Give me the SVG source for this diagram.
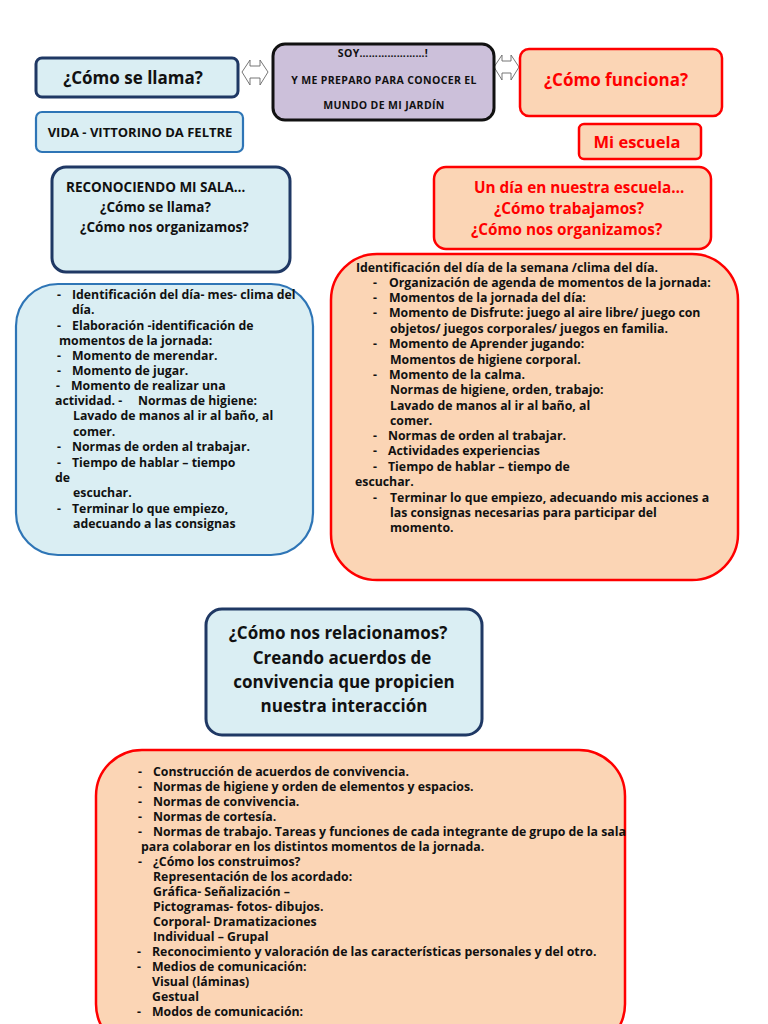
<svg xmlns="http://www.w3.org/2000/svg" width="768" height="1024" viewBox="0 0 768 1024">
<style>
text{font-family:"Open Sans","Liberation Sans",sans-serif;font-weight:bold;fill:#111}
.blue{fill:#daeef3;stroke:#1f3864;stroke-width:3}
.blue2{fill:#daeef3;stroke:#2e75b6;stroke-width:2.2}
.peach{fill:#fbd5b5;stroke:#ff0000;stroke-width:2.5}
.purple{fill:#ccc0da;stroke:#111;stroke-width:3}
.red{fill:#ff0000}
.t18{font-size:17px}
.t13{font-size:13.5px}
.t9{font-size:10.5px;letter-spacing:0.35px}
.t15{font-size:15.3px}
.li{font-size:12.3px}
.arr{fill:#fff;stroke:#666;stroke-width:0.9}
</style>
<rect width="768" height="1024" fill="#fff"/>
<g id="connectors">
<polygon class="arr" points="242,72 250,60 250,66 260,66 260,60 268,72 260,85 260,78 250,78 250,85"/>
<polygon class="arr" points="494,67 502,55 502,61 511,61 511,55 519,67 511,80 511,73 502,73 502,80"/>
</g>
<g id="n-como-se-llama">
<rect class="blue" x="36" y="58" width="202" height="39" rx="6"/>
<text class="t18" x="133" y="84" text-anchor="middle">¿Cómo se llama?</text>
</g>
<g id="n-vida">
<rect class="blue2" x="36" y="112" width="207" height="40" rx="6"/>
<text class="t13" x="140" y="137" text-anchor="middle" style="font-size:13px">VIDA - VITTORINO DA FELTRE</text>
</g>
<g id="n-soy">
<rect class="purple" x="273" y="44" width="221" height="76" rx="12"/>
<text class="t9" x="383" y="57" text-anchor="middle">SOY…………………!</text>
<text class="t9" x="384" y="84" text-anchor="middle">Y ME PREPARO PARA CONOCER EL</text>
<text class="t9" x="384" y="109" text-anchor="middle">MUNDO DE MI JARDÍN</text>
</g>
<g id="n-como-funciona">
<rect class="peach" x="520" y="49" width="202" height="67" rx="9"/>
<text class="t18 red" x="616" y="86" text-anchor="middle">¿Cómo funciona?</text>
</g>
<g id="n-mi-escuela">
<rect class="peach" x="579" y="124" width="122" height="35" rx="5"/>
<text class="t18 red" x="637" y="148" text-anchor="middle" style="font-size:16.5px">Mi escuela</text>
</g>
<g id="n-reconociendo">
<rect class="blue" x="52" y="167" width="238" height="105" rx="14"/>
<text class="t13" x="66" y="192">RECONOCIENDO MI SALA…</text>
<text class="t13" x="100" y="212">¿Cómo se llama?</text>
<text class="t13" x="80" y="232">¿Cómo nos organizamos?</text>
</g>
<g id="n-un-dia">
<rect class="peach" x="434" y="167" width="277" height="82" rx="12"/>
<text class="t15 red" x="474" y="193">Un día en nuestra escuela…</text>
<text class="t15 red" x="494" y="214">¿Cómo trabajamos?</text>
<text class="t15 red" x="471" y="235">¿Cómo nos organizamos?</text>
</g>
<g id="n-lista-sala">
<rect class="blue2" x="16" y="284" width="297" height="271" rx="42"/>
<text class="li" y="299"><tspan x="57">-</tspan><tspan x="72">Identificación del día- mes- clima del</tspan></text>
<text class="li" x="72" y="314">día.</text>
<text class="li" y="330"><tspan x="57">-</tspan><tspan x="72">Elaboración -identificación de</tspan></text>
<text class="li" x="59" y="345">momentos de la jornada:</text>
<text class="li" y="360"><tspan x="57">-</tspan><tspan x="72">Momento de merendar.</tspan></text>
<text class="li" y="375"><tspan x="57">-</tspan><tspan x="72">Momento de jugar.</tspan></text>
<text class="li" y="390"><tspan x="56">-</tspan><tspan x="71">Momento de realizar una</tspan></text>
<text class="li" y="405"><tspan x="55">actividad. -</tspan><tspan x="138">Normas de higiene:</tspan></text>
<text class="li" x="73" y="420">Lavado de manos al ir al baño, al</text>
<text class="li" x="73" y="436">comer.</text>
<text class="li" y="451"><tspan x="57">-</tspan><tspan x="72">Normas de orden al trabajar.</tspan></text>
<text class="li" y="467"><tspan x="57">-</tspan><tspan x="72">Tiempo de hablar – tiempo</tspan></text>
<text class="li" x="55" y="482">de</text>
<text class="li" x="73" y="497">escuchar.</text>
<text class="li" y="513"><tspan x="57">-</tspan><tspan x="72">Terminar lo que empiezo,</tspan></text>
<text class="li" x="73" y="528">adecuando a las consignas</text>
</g>
<g id="n-lista-escuela">
<rect class="peach" x="331" y="254" width="407" height="326" rx="46"/>
<text class="li" x="356" y="272">Identificación del día de la semana /clima del día.</text>
<text class="li" y="287"><tspan x="373">-</tspan><tspan x="389">Organización de agenda de momentos de la jornada:</tspan></text>
<text class="li" y="302"><tspan x="373">-</tspan><tspan x="389">Momentos de la jornada del día:</tspan></text>
<text class="li" y="317"><tspan x="373">-</tspan><tspan x="389">Momento de Disfrute: juego al aire libre/ juego con</tspan></text>
<text class="li" x="390" y="333">objetos/ juegos corporales/ juegos en familia.</text>
<text class="li" y="348"><tspan x="373">-</tspan><tspan x="389">Momento de Aprender jugando:</tspan></text>
<text class="li" x="390" y="364">Momentos de higiene corporal.</text>
<text class="li" y="379"><tspan x="373">-</tspan><tspan x="389">Momento de la calma.</tspan></text>
<text class="li" x="390" y="394">Normas de higiene, orden, trabajo:</text>
<text class="li" x="390" y="410">Lavado de manos al ir al baño, al</text>
<text class="li" x="390" y="425">comer.</text>
<text class="li" y="440"><tspan x="373">-</tspan><tspan x="388">Normas de orden al trabajar.</tspan></text>
<text class="li" y="455"><tspan x="373">-</tspan><tspan x="388">Actividades experiencias</tspan></text>
<text class="li" y="471"><tspan x="373">-</tspan><tspan x="388">Tiempo de hablar – tiempo de</tspan></text>
<text class="li" x="355" y="486">escuchar.</text>
<text class="li" y="502"><tspan x="373">-</tspan><tspan x="390">Terminar lo que empiezo, adecuando mis acciones a</tspan></text>
<text class="li" x="390" y="517">las consignas necesarias para participar del</text>
<text class="li" x="390" y="532">momento.</text>
</g>
<g id="n-relacionamos">
<rect class="blue" x="206" y="609" width="276" height="126" rx="16"/>
<text class="t18" x="338" y="639" text-anchor="middle">¿Cómo nos relacionamos?</text>
<text class="t18" x="342" y="664" text-anchor="middle">Creando acuerdos de</text>
<text class="t18" x="344" y="688" text-anchor="middle">convivencia que propicien</text>
<text class="t18" x="344" y="712" text-anchor="middle">nuestra interacción</text>
</g>
<g id="n-lista-acuerdos">
<rect class="peach" x="96" y="750" width="529" height="300" rx="46"/>
<text class="li" y="776"><tspan x="138">-</tspan><tspan x="153">Construcción de acuerdos de convivencia.</tspan></text>
<text class="li" y="791"><tspan x="138">-</tspan><tspan x="153">Normas de higiene y orden de elementos y espacios.</tspan></text>
<text class="li" y="806"><tspan x="138">-</tspan><tspan x="153">Normas de convivencia.</tspan></text>
<text class="li" y="821"><tspan x="138">-</tspan><tspan x="153">Normas de cortesía.</tspan></text>
<text class="li" y="836"><tspan x="138">-</tspan><tspan x="153">Normas de trabajo. Tareas y funciones de cada integrante de grupo de la sala</tspan></text>
<text class="li" x="141" y="851">para colaborar en los distintos momentos de la jornada.</text>
<text class="li" y="866"><tspan x="138">-</tspan><tspan x="153">¿Cómo los construimos?</tspan></text>
<text class="li" x="153" y="881">Representación de los acordado:</text>
<text class="li" x="153" y="896">Gráfica- Señalización –</text>
<text class="li" x="153" y="911">Pictogramas- fotos- dibujos.</text>
<text class="li" x="153" y="926">Corporal- Dramatizaciones</text>
<text class="li" x="153" y="941">Individual – Grupal</text>
<text class="li" y="956"><tspan x="137">-</tspan><tspan x="152">Reconocimiento y valoración de las características personales y del otro.</tspan></text>
<text class="li" y="971"><tspan x="137">-</tspan><tspan x="152">Medios de comunicación:</tspan></text>
<text class="li" x="152" y="986">Visual (láminas)</text>
<text class="li" x="152" y="1001">Gestual</text>
<text class="li" y="1016"><tspan x="137">-</tspan><tspan x="152">Modos de comunicación:</tspan></text>
</g>
</svg>
